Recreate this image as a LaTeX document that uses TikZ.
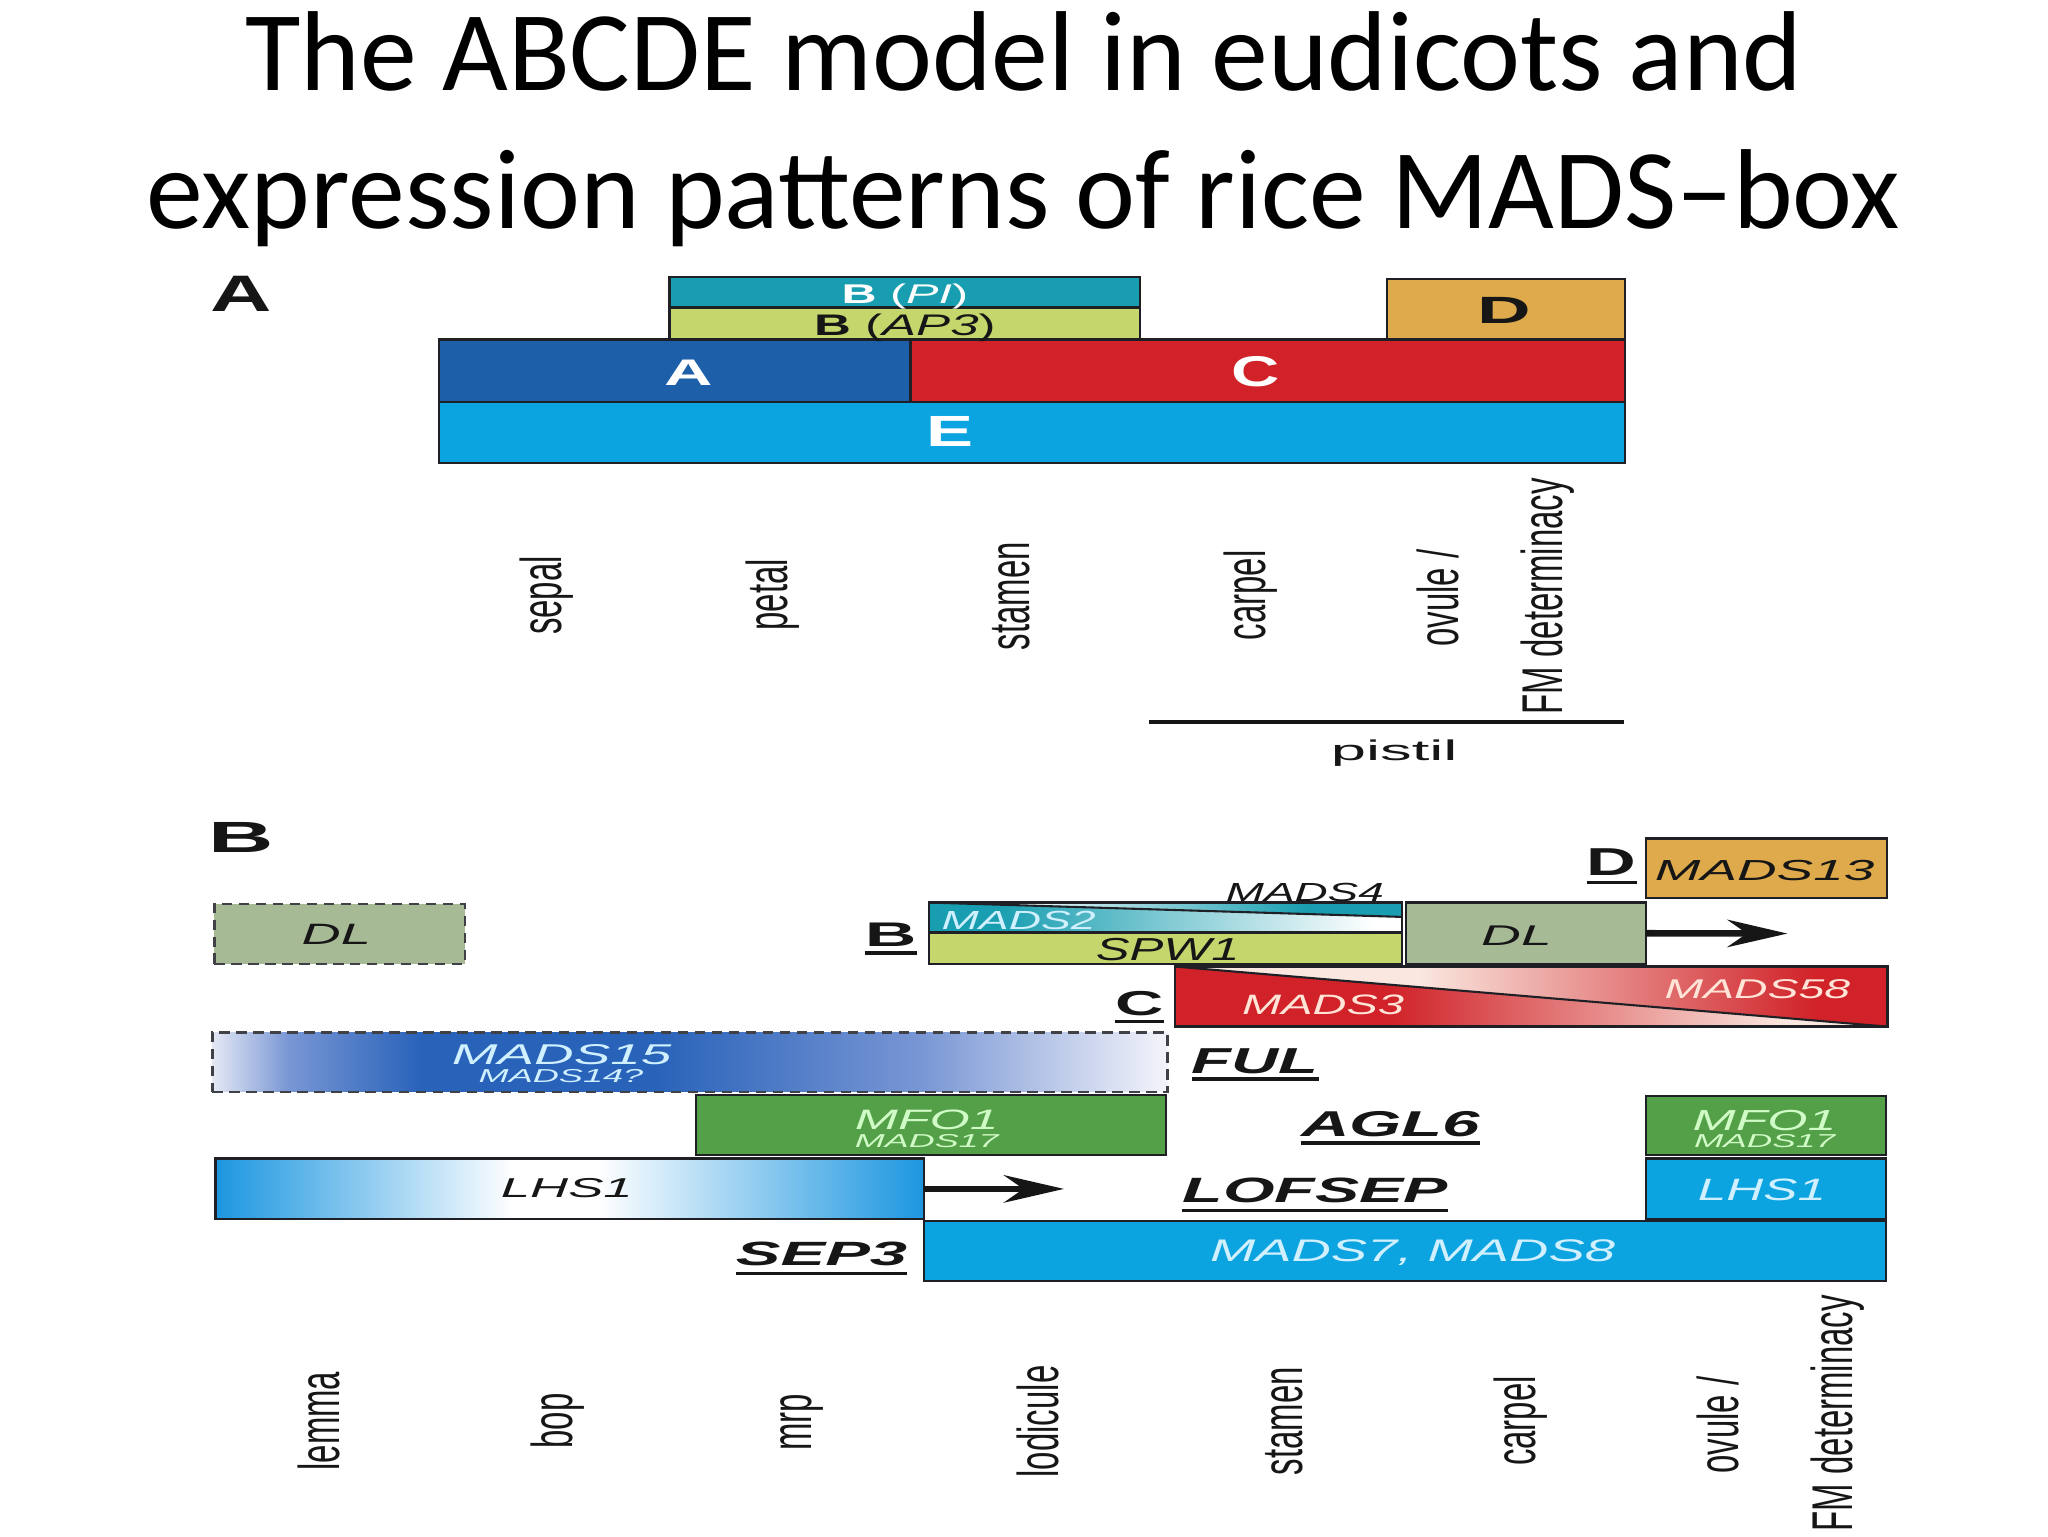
\documentclass[tikz,border=0pt]{standalone}
\usepackage{fontspec}
\usepackage{graphicx}
\setmainfont{Liberation Sans}
\newfontfamily\titlefont[Ligatures=TeX]{Carlito}
\usetikzlibrary{arrows.meta,calc}

\definecolor{cTeal}{RGB}{24,158,176}
\definecolor{cLime}{RGB}{196,214,108}
\definecolor{cGold}{RGB}{222,170,76}
\definecolor{cAblue}{RGB}{30,95,170}
\definecolor{cRed}{RGB}{208,34,40}
\definecolor{cEblue}{RGB}{12,164,224}
\definecolor{cDL}{RGB}{167,186,150}
\definecolor{cMFO}{RGB}{84,160,72}
\definecolor{cBord}{RGB}{30,32,38}
\definecolor{cDark}{RGB}{22,22,22}
\definecolor{cLtGreen}{RGB}{208,250,198}
\definecolor{cLtBlue}{RGB}{208,240,255}
\definecolor{cLtPink}{RGB}{255,228,215}
\definecolor{cDeep}{RGB}{40,98,185}
\definecolor{cMid}{RGB}{120,150,212}
\definecolor{cPaleL}{RGB}{228,232,244}
\definecolor{cPale}{RGB}{244,244,250}
\definecolor{cTealPale}{RGB}{240,249,251}
\definecolor{cRedPale}{RGB}{250,232,224}
\definecolor{cLhs}{RGB}{28,150,224}

\pgfdeclarehorizontalshading{shMadsFifteen}{100bp}{color(0bp)=(cPaleL); color(25bp)=(cPaleL); color(29bp)=(cMid); color(36bp)=(cDeep); color(48bp)=(cDeep); color(62bp)=(cMid); color(75bp)=(cPale); color(100bp)=(cPale)}
\pgfdeclarehorizontalshading{shLhs}{100bp}{color(0bp)=(cLhs); color(25bp)=(cLhs); color(46bp)=(white); color(52bp)=(white); color(75bp)=(cLhs); color(100bp)=(cLhs)}
\pgfdeclarehorizontalshading{shMadsThree}{100bp}{color(0bp)=(cRed); color(25bp)=(cRed); color(40bp)=(cRed); color(68bp)=(cRedPale); color(75bp)=(cRedPale); color(100bp)=(cRedPale)}
\pgfdeclarehorizontalshading{shMadsFE}{100bp}{color(0bp)=(cRedPale); color(25bp)=(cRedPale); color(42bp)=(cRedPale); color(70bp)=(cRed); color(75bp)=(cRed); color(100bp)=(cRed)}
\pgfdeclarehorizontalshading{shMadsTwo}{100bp}{color(0bp)=(cTeal); color(25bp)=(cTeal); color(32bp)=(cTeal); color(72bp)=(white); color(75bp)=(white); color(100bp)=(white)}
\pgfdeclarehorizontalshading{shMadsFour}{100bp}{color(0bp)=(cTealPale); color(25bp)=(cTealPale); color(35bp)=(cTealPale); color(65bp)=(cTeal); color(75bp)=(cTeal); color(100bp)=(cTeal)}

\newcommand{\fitbox}[3]{\resizebox{#1pt}{#2pt}{#3}}
\newcommand{\rotlab}[1]{\scalebox{0.573}[1]{\fontsize{44}{44}\selectfont #1}}
\newcommand{\mybox}[6]{\node[box,#6,minimum width={(#4-#2)*1pt},minimum height={(#5-#3)*1pt}] (#1) at ({(#2+#4)/2},{(#3+#5)/2}) {};}

\tikzset{
  box/.style={rectangle, draw=cBord, line width=1.8pt, inner sep=0pt, outer sep=0pt},
  dbox/.style={rectangle, draw=cBord!85, line width=2pt, dash pattern=on 8pt off 5pt, inner sep=0pt, outer sep=0pt},
  bordline/.style={draw=cBord, line width=1.8pt},
  diag/.style={draw=cBord, line width=1.6pt},
  lbl/.style={inner sep=0pt, anchor=base},
  rotl/.style={inner sep=0pt, rotate=90, anchor=center, text=cDark},
  uline/.style={draw=cDark, line width=2.6pt},
  bigarrow/.style={draw=cDark, line width=5pt, -{Stealth[length=46pt,width=21pt]}},
}

\begin{document}
\begin{tikzpicture}[x=1pt,y=-1pt]
\fill[white] (0,0) rectangle (1568,1176);
\useasboundingbox (0,0) rectangle (1568,1176);

% ---------- title ----------
\node[lbl] (title1) at (784,69.5) {\titlefont\fontsize{87}{87}\selectfont The ABCDE model in eudicots and};
\node[lbl] (title2) at (783.5,175) {\titlefont\fontsize{87}{87}\selectfont expression patterns of rice MADS–box};

% ---------- panel A ----------
\node[lbl, text=cDark] (panA) at (185,238.6) {\fitbox{47}{27}{\bfseries A}};

\mybox{bpi}{512.5}{212}{873}{235.5}{fill=cTeal}
\mybox{bap}{512.5}{235.5}{873}{260}{fill=cLime}
\mybox{dA}{1062}{213.5}{1244}{260}{fill=cGold}
\mybox{aA}{336}{260}{697}{308}{fill=cAblue}
\mybox{cA}{697}{260}{1244}{308}{fill=cRed}
\mybox{eA}{336}{308}{1244}{354.5}{fill=cEblue}

\node[lbl, text=white] (tbpi) at (692.8,232) {\fitbox{97}{15}{{\bfseries B} ({\itshape PI\/})}};
\node[lbl, text=cDark] (tbap) at (692.8,256.5) {\fitbox{139}{16.5}{{\bfseries B} ({\itshape AP3})}};
\node[lbl, text=white] (taA) at (527,294.8) {\fitbox{37}{19.5}{\bfseries A}};
\node[lbl, text=white] (tcA) at (961.5,296) {\fitbox{37}{23}{\bfseries C}};
\node[lbl, text=white] (teA) at (727.3,342) {\fitbox{36}{23}{\bfseries E}};
\node[lbl, text=cDark] (tdA) at (1151.8,248) {\fitbox{41}{20}{\bfseries D}};

\node[rotl] (sepalA) at (418.7,456) {\rotlab{sepal}};
\node[rotl] (petalA) at (591.5,455.4) {\rotlab{petal}};
\node[rotl] (stamenA) at (774.5,456.5) {\rotlab{stamen}};
\node[rotl] (carpelA) at (957.6,455.7) {\rotlab{carpel}};
\node[rotl] (ovuleA) at (1101,458) {\rotlab{ovule /}};
\node[rotl] (fmA) at (1184.7,456.5) {\rotlab{FM determinacy}};

\coordinate (pisL) at (880,553);
\coordinate (pisR) at (1243,553);
\draw[draw=cDark, line width=3pt] (pisL) -- (pisR);
\node[lbl, text=cDark] (pistil) at (1067.4,582.4) {\fitbox{97}{15.8}{pistil}};

% ---------- panel B ----------
\node[lbl, text=cDark] (panB) at (184.5,653) {\fitbox{50}{23}{\bfseries B}};

\mybox{dlOne}{164}{692}{356}{738}{dbox, fill=cDL}

% B class box (MADS2 / MADS4)
\mybox{mtwo}{711.5}{691}{1073.5}{714}{draw=none}
\coordinate (mtwoR) at (1073.5,702);
\shade[shading=shMadsTwo] (mtwo.north west) -- (mtwoR) -- (mtwo.south east) -- (mtwo.south west) -- cycle;
\shade[shading=shMadsFour] (mtwo.north west) -- (mtwo.north east) -- (mtwoR) -- cycle;
\draw[diag] (mtwo.north west) -- (mtwoR);
\draw[bordline] (mtwo.north west) rectangle (mtwo.south east);
\mybox{spw}{711.5}{714}{1073.5}{738}{fill=cLime}

\mybox{dlTwo}{1076.5}{691}{1260}{738}{fill=cDL}
\mybox{mthirteen}{1260}{642}{1444.5}{687.5}{fill=cGold}

% C class box
\mybox{cbox}{899.5}{740}{1445}{786}{draw=none}
\shade[shading=shMadsThree] (cbox.north west) -- (cbox.south east) -- (cbox.south west) -- cycle;
\shade[shading=shMadsFE] (cbox.north west) -- (cbox.north east) -- (cbox.south east) -- cycle;
\draw[diag] (cbox.north west) -- (cbox.south east);
\draw[bordline] (cbox.north west) rectangle (cbox.south east);

\mybox{mfifteen}{162.5}{790.5}{894}{836}{dbox, shading=shMadsFifteen}
\mybox{mfoL}{533}{838.5}{892.5}{884.5}{fill=cMFO}
\mybox{mfoR}{1260}{839}{1444}{884.5}{fill=cMFO}
\mybox{lhsL}{165}{887}{707.5}{933.5}{shading=shLhs}
\mybox{lhsR}{1260}{887}{1444}{933.5}{fill=cEblue}
\mybox{sepbox}{707.5}{935}{1444}{980.5}{fill=cEblue}

% arrows
\coordinate (arrOneEnd) at (1368.5,714.75);
\draw[bigarrow] (dlTwo.east) -- (arrOneEnd);
\coordinate (arrTwoEnd) at (814.6,910.25);
\draw[bigarrow] (lhsL.east) -- (arrTwoEnd);

% texts panel B
\node[lbl, text=cDark] (tdlOne) at (257.5,723.5) {\fitbox{53}{15.5}{\itshape DL}};
\node[lbl, text=cDark] (tbU) at (682,725) {\fitbox{39.5}{18}{\bfseries B}};
\node[lbl, text=cLtBlue] (tmtwo) at (780,712) {\fitbox{118}{14}{\itshape MADS2}};
\node[lbl, text=cDark] (tmfour) at (999,690) {\fitbox{121}{14}{\itshape MADS4}};
\node[lbl, text=cDark] (tspw) at (894,735) {\fitbox{110}{17}{\itshape SPW1}};
\node[lbl, text=cDark] (tdlTwo) at (1161,724) {\fitbox{54}{15}{\itshape DL}};
\node[lbl, text=cDark] (tdU) at (1234,670) {\fitbox{38}{20.5}{\bfseries D}};
\node[lbl, text=cDark] (tmthirteen) at (1351,674) {\fitbox{168}{15.5}{\itshape MADS13}};
\node[lbl, text=cDark] (tcU) at (872.5,777.5) {\fitbox{37}{18.5}{\bfseries C}};
\node[lbl, text=cLtPink] (tmthree) at (1013,777) {\fitbox{124}{15}{\itshape MADS3}};
\node[lbl, text=cLtPink] (tmfe) at (1345.5,764.5) {\fitbox{142}{14.5}{\itshape MADS58}};
\node[lbl, text=cLtBlue] (tmfifteen) at (430,815.3) {\fitbox{168}{15.3}{\itshape MADS15}};
\node[lbl, text=cLtBlue] (tmfourteen) at (429.5,829) {\fitbox{126}{10}{\itshape MADS14?}};
\node[lbl, text=cDark] (tful) at (961,821.7) {\fitbox{97}{19}{\bfseries\itshape FUL}};
\node[lbl, text=cLtGreen] (tmfoL) at (709.6,864.4) {\fitbox{110}{15}{\itshape MFO1}};
\node[lbl, text=cLtGreen] (tmsevL) at (709.6,878.5) {\fitbox{110}{10}{\itshape MADS17}};
\node[lbl, text=cDark] (tagl) at (1064.7,870.2) {\fitbox{137}{19.2}{\bfseries\itshape AGL6}};
\node[lbl, text=cDark] (tlhsL) at (434,916.6) {\fitbox{101}{14.6}{\itshape LHS1}};
\node[lbl, text=cDark] (tlof) at (1007,920.8) {\fitbox{203}{18.8}{\bfseries\itshape LOFSEP}};
\node[lbl, text=cLtGreen] (tmfoR) at (1351,865.5) {\fitbox{110}{15.5}{\itshape MFO1}};
\node[lbl, text=cLtGreen] (tmsevR) at (1351,878.5) {\fitbox{108}{10}{\itshape MADS17}};
\node[lbl, text=cLtBlue] (tlhsR) at (1349,919) {\fitbox{98}{16.5}{\itshape LHS1}};
\node[lbl, text=cDark] (tsep) at (629,968.5) {\fitbox{131}{18}{\bfseries\itshape SEP3}};
\node[lbl, text=cLtBlue] (tmse) at (1081.5,966) {\fitbox{310}{16.7}{\itshape MADS7, MADS8}};

% underlines
\draw[uline] ([yshift=-4.5pt]tbU.base west) -- ([yshift=-4.5pt]tbU.base east);
\draw[uline] ([yshift=-5.5pt]tdU.base west) -- ([yshift=-5.5pt]tdU.base east);
\draw[uline] ([yshift=-4.5pt]tcU.base west) -- ([yshift=-4.5pt]tcU.base east);
\draw[uline] ([yshift=-4.5pt]tful.base west) -- ([yshift=-4.5pt]tful.base east);
\draw[uline] ([yshift=-5pt]tagl.base west) -- ([yshift=-5pt]tagl.base east);
\draw[uline] ([yshift=-6pt]tlof.base west) -- ([yshift=-6pt]tlof.base east);
\draw[uline] ([yshift=-6.5pt]tsep.base west) -- ([yshift=-6.5pt]tsep.base east);

% bottom labels
\node[rotl] (lemmaB) at (244.5,1088) {\rotlab{lemma}};
\node[rotl] (bopB) at (427,1088) {\rotlab{bop}};
\node[rotl] (mrpB) at (614,1089) {\rotlab{mrp}};
\node[rotl] (lodB) at (794.4,1088.3) {\rotlab{lodicule}};
\node[rotl] (stamenB) at (983.5,1088) {\rotlab{stamen}};
\node[rotl] (carpelB) at (1164,1088) {\rotlab{carpel}};
\node[rotl] (ovuleB) at (1315.5,1091) {\rotlab{ovule /}};
\node[rotl] (fmB) at (1407,1082) {\rotlab{FM determinacy}};
\end{tikzpicture}
\end{document}
